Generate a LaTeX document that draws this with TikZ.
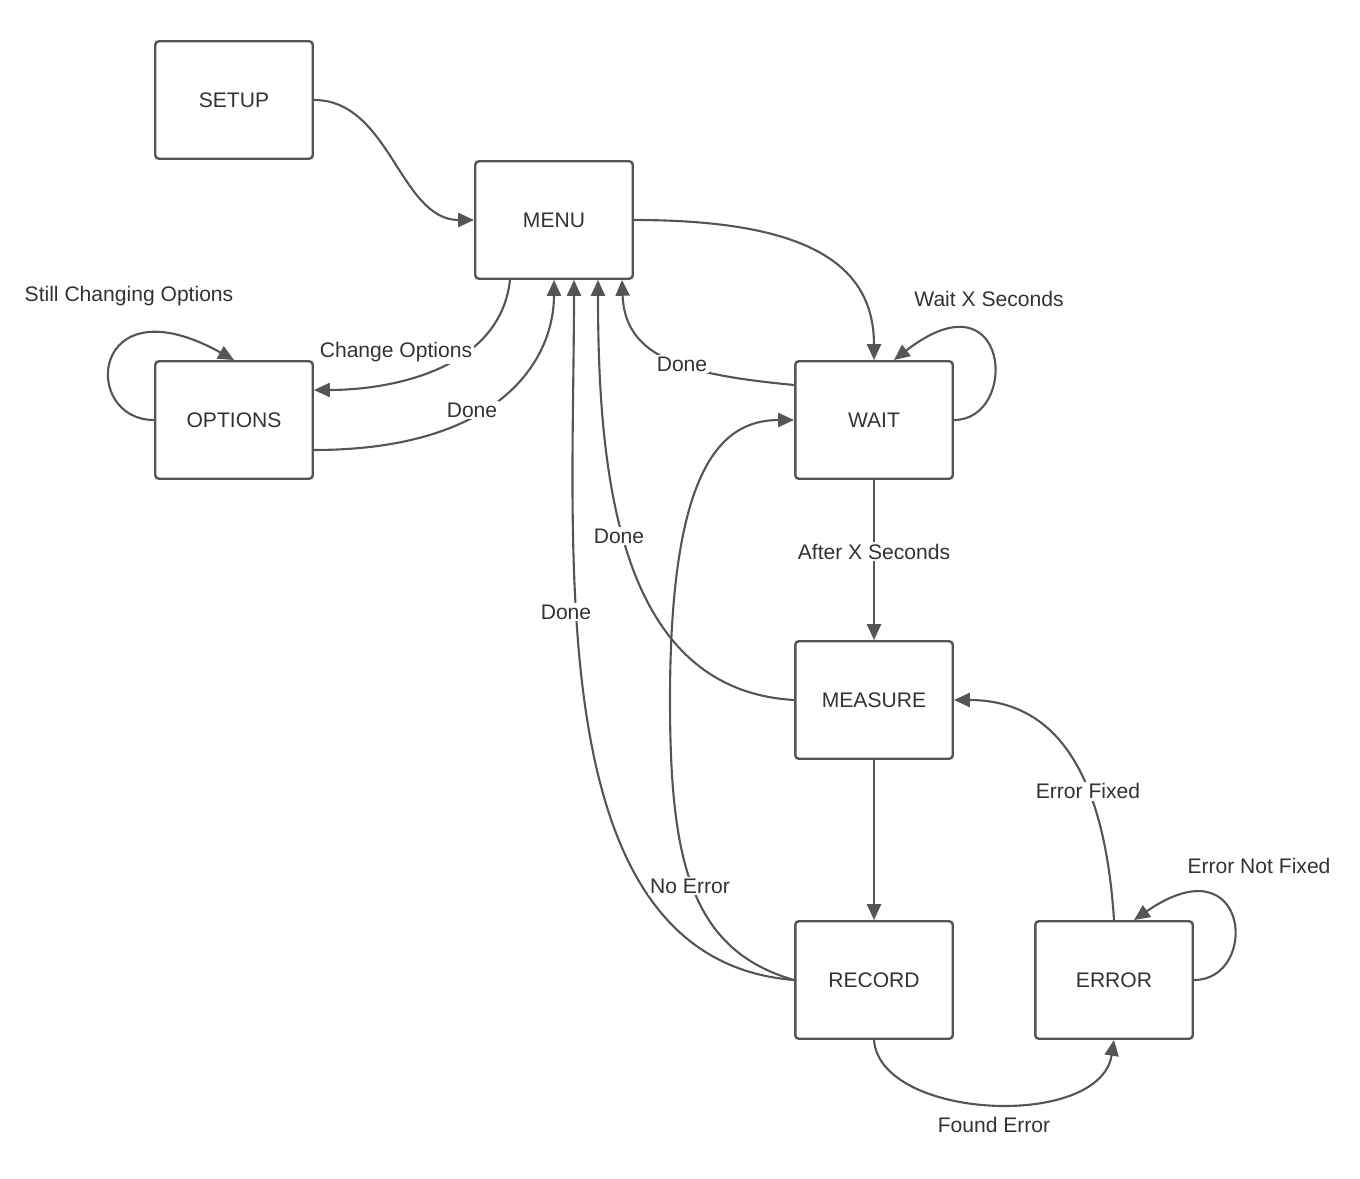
\documentclass[tikz,border=0pt]{standalone}
\usepackage{fontspec}
\setmainfont{Liberation Sans}
\usetikzlibrary{arrows.meta,calc}
\definecolor{ln}{HTML}{555555}
\definecolor{tx}{HTML}{333333}
\begin{document}
\begin{tikzpicture}[x=0.02cm,y=-0.02cm,
  state/.style={draw=ln,line width=1.4pt,rounded corners=2pt,minimum width=3.15cm,minimum height=2.35cm,font=\fontsize{12}{14}\selectfont,text=tx},
  edge/.style={draw=ln,line width=1.2pt,-{Triangle[length=9pt,width=8pt]}},
  lab/.style={fill=white,inner sep=1pt,font=\fontsize{12}{14}\selectfont,text=tx}]
\useasboundingbox (0,0) rectangle (1360,1179);
\node[state] (setup) at (234,100) {SETUP};
\node[state] (menu) at (554,220) {MENU};
\node[state] (options) at (234,420) {OPTIONS};
\node[state] (wait) at (874,420) {WAIT};
\node[state] (measure) at (874,700) {MEASURE};
\node[state] (record) at (874,980) {RECORD};
\node[state] (error) at (1114,980) {ERROR};

% setup -> menu
\draw[edge] ($(setup.east)+(0,0)$) .. controls (390,100) and (400,220) .. (menu.west);
% menu -> wait
\draw[edge] (menu.east) .. controls (800,220) and (874,260) .. (wait.north);
% wait self loop
\draw[edge] (wait.east) .. controls (1020,420) and (1010,270) .. ($(wait.north)+(20,0)$);
\node[lab] (l1) at (989,299) {Wait X Seconds};
% wait -> menu
\draw[edge] ($(wait.west)+(0,-35)$) .. controls (690,375) and (625,360) .. ($(menu.south)+(68,0)$);
\node[lab] (l2) at (682,364) {Done};
% menu -> options
\draw[edge] ($(menu.south)+(-44,0)$) .. controls (500,370) and (390,390) .. ($(options.east)+(0,-30)$);
\node[lab] (l3) at (396,352) {Change Options};
% options -> menu
\draw[edge] ($(options.east)+(0,30)$) .. controls (500,450) and (554,360) .. (menu.south);
\node[lab] (l4) at (472,410) {Done};
% options self loop
\draw[edge] (options.west) .. controls (80,420) and (90,280) .. (options.north);
\node[lab] (l5) at (129,296) {Still Changing Options};
% wait -> measure
\draw[edge] (wait.south) -- (measure.north) node[lab,pos=0.45] (l6) {After X Seconds};
% measure -> menu
\draw[edge] (measure.west) .. controls (620,690) and (598,480) .. ($(menu.south)+(44,0)$);
\node[lab] (l7) at (619,536) {Done};
% record -> menu
\draw[edge] (record.west) .. controls (540,960) and (574,560) .. ($(menu.south)+(20,0)$);
\node[lab] (l8) at (566,612) {Done};
% record -> wait
\draw[edge] (record.west) .. controls (690,950) and (670,860) .. (670,700) .. controls (670,470) and (720,420) .. (wait.west);
\node[lab] (l9) at (690,886) {No Error};
% measure -> record
\draw[edge] (measure.south) -- (record.north);
% record -> error
\draw[edge] (record.south) .. controls (880,1120) and (1100,1130) .. (error.south);
\node[lab] (l10) at (994,1125) {Found Error};
% error -> measure
\draw[edge] (error.north) .. controls (1105,780) and (1060,700) .. (measure.east);
\node[lab] (l11) at (1088,791) {Error Fixed};
% error self loop
\draw[edge] (error.east) .. controls (1260,980) and (1250,840) .. ($(error.north)+(20,0)$);
\node[lab] (l12) at (1259,866) {Error Not Fixed};
\end{tikzpicture}
\end{document}
